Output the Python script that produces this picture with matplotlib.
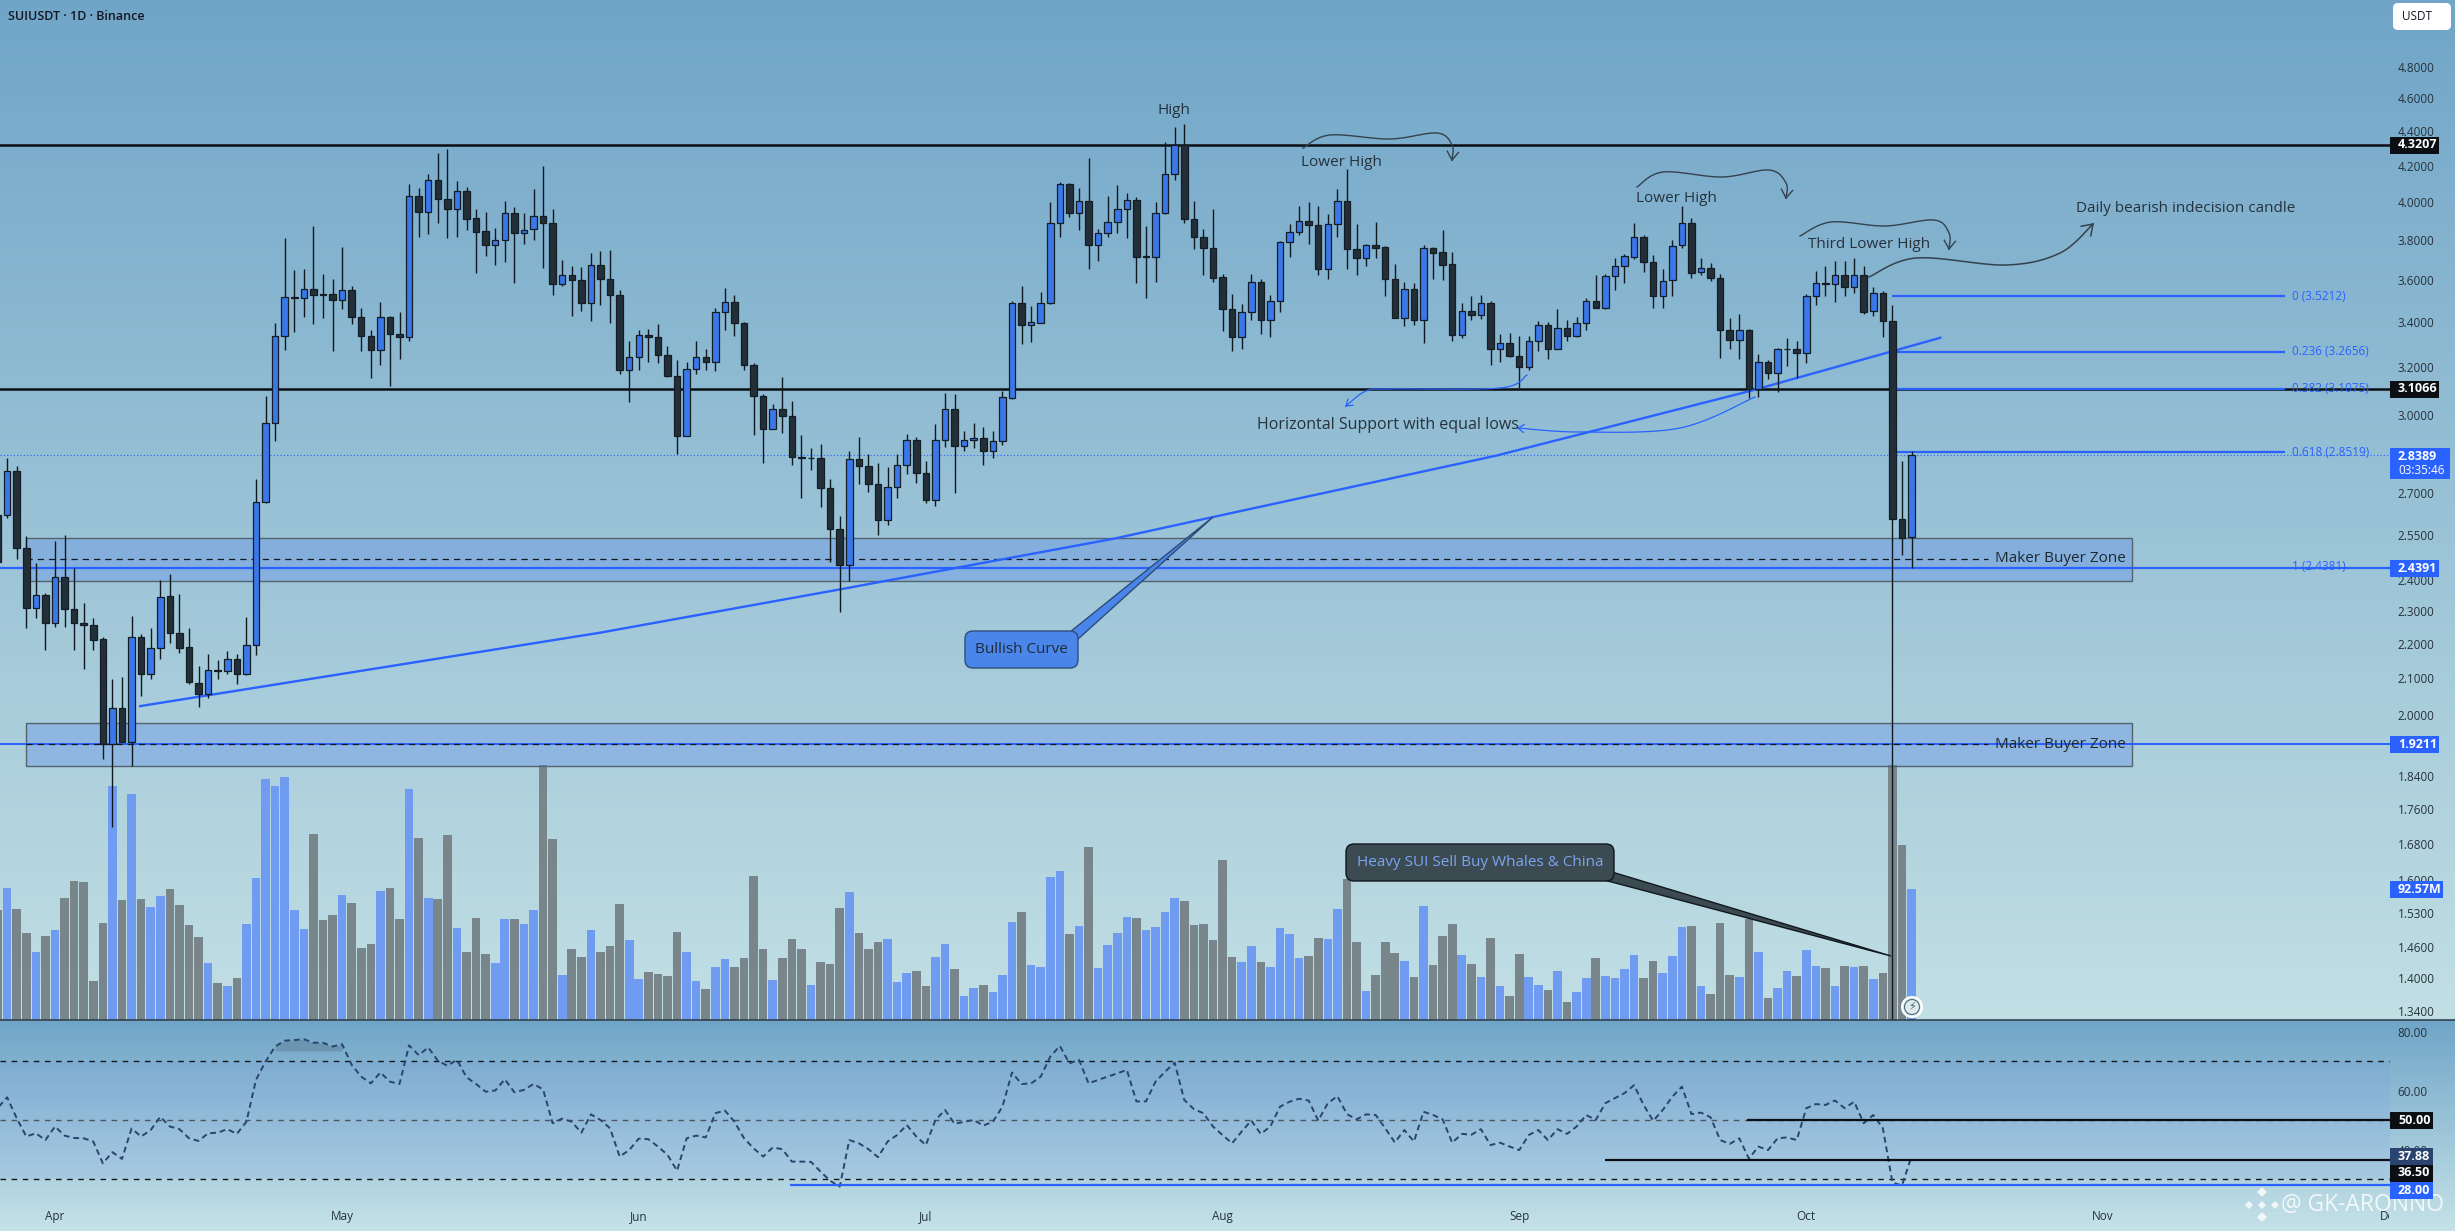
import numpy as np
import matplotlib
matplotlib.use("Agg")
import matplotlib.pyplot as plt
from matplotlib.patches import Rectangle, FancyBboxPatch, Polygon, Circle
from matplotlib.transforms import Bbox, TransformedBbox

plt.rcParams['font.family'] = ['Open Sans', 'DejaVu Sans']

# days counted from 1 Apr, one candle per day
first_day = -6

opens = [2.620, 2.618, 2.779, 2.504, 2.309, 2.350, 2.264, 2.409, 2.307, 2.262,
         2.256, 2.214, 1.921, 2.017, 1.928, 2.220, 2.112, 2.187, 2.347, 2.232,
         2.191, 2.086, 2.055, 2.123, 2.121, 2.155, 2.112, 2.196, 2.664, 2.964,
         3.338, 3.514, 3.514, 3.555, 3.529, 3.529, 3.501, 3.549, 3.422, 3.334,
         3.272, 3.422, 3.344, 3.330, 4.029, 3.947, 4.118, 4.012, 3.959, 4.061,
         3.912, 3.844, 3.775, 3.796, 3.938, 3.832, 3.853, 3.926, 3.884, 3.578,
         3.621, 3.597, 3.487, 3.670, 3.602, 3.525, 3.185, 3.241, 3.340, 3.330,
         3.251, 3.160, 2.916, 3.192, 3.241, 3.219, 3.445, 3.491, 3.393, 3.206,
         3.075, 2.944, 3.022, 2.993, 2.831, 2.828, 2.828, 2.716, 2.570, 2.447,
         2.825, 2.798, 2.730, 2.601, 2.719, 2.801, 2.897, 2.773, 2.672, 2.897,
         3.022, 2.874, 2.897, 2.905, 2.855, 2.893, 3.069, 3.487, 3.385, 3.397,
         3.487, 3.884, 4.095, 3.938, 4.003, 3.775, 3.832, 3.891, 3.959, 4.007,
         3.714, 3.714, 3.942, 4.155, 4.321, 3.905, 3.812, 3.755, 3.612, 3.460,
         3.330, 3.445, 3.587, 3.407, 3.497, 3.787, 3.837, 3.896, 3.875, 3.650,
         3.879, 4.003, 3.750, 3.705, 3.771, 3.762, 3.602, 3.420, 3.555, 3.411,
         3.755, 3.737, 3.676, 3.340, 3.449, 3.434, 3.487, 3.280, 3.304, 3.247,
         3.200, 3.312, 3.385, 3.280, 3.371, 3.334, 3.393, 3.497, 3.465, 3.617,
         3.665, 3.712, 3.812, 3.685, 3.520, 3.597, 3.771, 3.884, 3.636, 3.656,
         3.606, 3.363, 3.316, 3.363, 3.107, 3.219, 3.175, 3.276, 3.276, 3.259,
         3.520, 3.583, 3.578, 3.621, 3.564, 3.621, 3.449, 3.538, 3.403, 2.605, 2.541]
closes = [2.458, 2.779, 2.504, 2.309, 2.350, 2.264, 2.409, 2.307, 2.262, 2.256,
          2.213, 1.921, 2.017, 1.928, 2.220, 2.112, 2.187, 2.344, 2.232, 2.189,
          2.089, 2.055, 2.123, 2.121, 2.155, 2.112, 2.196, 2.664, 2.964, 3.338,
          3.516, 3.516, 3.555, 3.525, 3.525, 3.501, 3.549, 3.422, 3.334, 3.272,
          3.422, 3.344, 3.330, 4.029, 3.947, 4.118, 4.012, 3.959, 4.061, 3.910,
          3.842, 3.775, 3.796, 3.938, 3.832, 3.849, 3.926, 3.884, 3.578, 3.621,
          3.597, 3.487, 3.670, 3.602, 3.525, 3.185, 3.241, 3.340, 3.330, 3.251,
          3.160, 2.916, 3.192, 3.241, 3.219, 3.445, 3.491, 3.393, 3.206, 3.075,
          2.944, 3.022, 2.993, 2.831, 2.828, 2.830, 2.716, 2.570, 2.447, 2.825,
          2.798, 2.730, 2.601, 2.719, 2.801, 2.897, 2.773, 2.672, 2.897, 3.022,
          2.874, 2.897, 2.905, 2.855, 2.893, 3.071, 3.487, 3.385, 3.399, 3.487,
          3.884, 4.095, 3.938, 4.003, 3.775, 3.832, 3.891, 3.959, 4.007, 3.714,
          3.716, 3.942, 4.155, 4.321, 3.905, 3.812, 3.755, 3.610, 3.460, 3.330,
          3.445, 3.587, 3.407, 3.497, 3.787, 3.837, 3.896, 3.875, 3.650, 3.879,
          4.003, 3.750, 3.709, 3.771, 3.759, 3.602, 3.420, 3.555, 3.411, 3.755,
          3.734, 3.674, 3.340, 3.449, 3.434, 3.487, 3.280, 3.304, 3.245, 3.200,
          3.312, 3.385, 3.280, 3.371, 3.334, 3.393, 3.497, 3.467, 3.619, 3.665,
          3.716, 3.812, 3.685, 3.520, 3.595, 3.766, 3.884, 3.634, 3.656, 3.606,
          3.363, 3.316, 3.363, 3.107, 3.219, 3.175, 3.276, 3.278, 3.259, 3.520,
          3.583, 3.577, 3.621, 3.564, 3.621, 3.445, 3.536, 3.403, 2.605, 2.539, 2.8389]
highs = [2.630, 2.830, 2.799, 2.545, 2.456, 2.357, 2.529, 2.549, 2.439, 2.326,
         2.279, 2.222, 2.098, 2.105, 2.286, 2.230, 2.248, 2.399, 2.419, 2.353,
         2.248, 2.136, 2.170, 2.154, 2.180, 2.170, 2.283, 2.748, 3.077, 3.393,
         3.809, 3.648, 3.652, 3.872, 3.630, 3.602, 3.764, 3.568, 3.465, 3.361,
         3.495, 3.428, 3.447, 4.098, 4.075, 4.155, 4.272, 4.295, 4.115, 4.080,
         3.959, 3.947, 3.858, 4.005, 3.971, 3.940, 4.070, 4.196, 3.962, 3.698,
         3.668, 3.661, 3.730, 3.743, 3.746, 3.549, 3.312, 3.363, 3.367, 3.389,
         3.290, 3.229, 3.219, 3.312, 3.280, 3.467, 3.561, 3.525, 3.401, 3.215,
         3.083, 3.042, 3.158, 3.057, 2.917, 2.866, 2.883, 2.751, 2.616, 2.857,
         2.909, 2.843, 2.808, 2.796, 2.843, 2.924, 2.909, 2.816, 2.960, 3.088,
         3.083, 2.935, 2.964, 2.951, 2.935, 3.095, 3.499, 3.568, 3.476, 3.540,
         4.000, 4.108, 4.100, 4.075, 4.244, 3.853, 4.032, 4.093, 4.049, 4.024,
         3.872, 4.000, 4.339, 4.427, 4.443, 4.005, 3.853, 3.959, 3.628, 3.531,
         3.483, 3.630, 3.602, 3.527, 3.791, 3.879, 3.976, 4.000, 3.978, 3.933,
         4.070, 4.180, 3.881, 3.780, 3.893, 3.766, 3.676, 3.589, 3.585, 3.775,
         3.764, 3.851, 3.739, 3.487, 3.522, 3.527, 3.499, 3.344, 3.350, 3.334,
         3.334, 3.405, 3.401, 3.458, 3.407, 3.424, 3.510, 3.621, 3.628, 3.707,
         3.727, 3.884, 3.823, 3.720, 3.652, 3.796, 3.976, 3.912, 3.705, 3.681,
         3.626, 3.420, 3.436, 3.367, 3.255, 3.231, 3.282, 3.328, 3.314, 3.533,
         3.641, 3.668, 3.690, 3.692, 3.707, 3.668, 3.564, 3.544, 3.481, 2.818, 2.857]
lows = [2.440, 2.607, 2.469, 2.248, 2.279, 2.183, 2.252, 2.252, 2.183, 2.127,
        2.183, 1.884, 1.719, 1.926, 1.865, 2.052, 2.098, 2.156, 2.204, 2.175,
        2.085, 2.021, 2.045, 2.098, 2.112, 2.083, 2.110, 2.168, 2.662, 2.895,
        3.274, 3.355, 3.424, 3.391, 3.420, 3.270, 3.458, 3.389, 3.267, 3.152,
        3.208, 3.118, 3.235, 3.314, 3.814, 3.830, 3.886, 3.809, 3.814, 3.849,
        3.632, 3.718, 3.672, 3.687, 3.585, 3.778, 3.798, 3.659, 3.527, 3.568,
        3.428, 3.452, 3.405, 3.481, 3.395, 3.169, 3.053, 3.186, 3.221, 3.218,
        3.158, 2.845, 2.914, 3.171, 3.186, 3.183, 3.365, 3.336, 3.185, 2.919,
        2.809, 2.942, 2.926, 2.802, 2.680, 2.782, 2.648, 2.458, 2.296, 2.396,
        2.732, 2.703, 2.551, 2.583, 2.680, 2.768, 2.735, 2.661, 2.650, 2.873,
        2.699, 2.857, 2.867, 2.802, 2.828, 2.881, 3.062, 3.300, 3.310, 3.395,
        3.485, 3.812, 3.919, 3.851, 3.654, 3.692, 3.812, 3.835, 3.807, 3.585,
        3.512, 3.589, 3.935, 4.120, 3.884, 3.750, 3.621, 3.591, 3.357, 3.267,
        3.278, 3.411, 3.344, 3.330, 3.445, 3.714, 3.825, 3.780, 3.621, 3.602,
        3.814, 3.654, 3.621, 3.668, 3.707, 3.520, 3.418, 3.381, 3.385, 3.306,
        3.604, 3.600, 3.312, 3.326, 3.411, 3.413, 3.208, 3.221, 3.243, 3.109,
        3.186, 3.267, 3.235, 3.276, 3.314, 3.332, 3.365, 3.465, 3.460, 3.551,
        3.585, 3.700, 3.639, 3.463, 3.465, 3.520, 3.757, 3.608, 3.623, 3.595,
        3.237, 3.278, 3.235, 3.067, 3.073, 3.149, 3.094, 3.204, 3.152, 3.218,
        3.481, 3.522, 3.495, 3.522, 3.536, 3.439, 3.426, 3.330, 0.56, 2.482, 2.4391]
# volume in millions
volumes = [77.7, 93.3, 78.4, 61.5, 48.0, 59.3, 63.6, 86.2, 98.2, 97.5,
           27.6, 68.5, 165.3, 84.8, 159.7, 85.5, 79.8, 87.6, 92.6, 81.2,
           67.1, 58.6, 40.3, 26.1, 24.0, 29.7, 67.8, 100.3, 170.3, 165.3,
           171.7, 77.7, 64.3, 131.4, 70.7, 74.2, 88.3, 82.7, 50.9, 53.7,
           91.1, 93.3, 71.4, 163.2, 128.6, 86.2, 85.5, 130.7, 65.0, 48.0,
           72.1, 46.6, 40.3, 71.4, 71.4, 67.8, 77.7, 180.2, 127.9, 31.8,
           50.2, 44.5, 63.6, 48.0, 52.3, 82.0, 56.5, 29.0, 33.9, 32.5,
           31.1, 62.2, 48.0, 27.6, 21.9, 37.4, 43.1, 37.4, 43.8, 101.7,
           50.2, 28.3, 43.8, 57.2, 50.2, 24.7, 41.0, 39.6, 79.1, 90.4,
           61.5, 50.2, 55.1, 57.2, 26.8, 33.2, 34.6, 24.0, 44.5, 53.7,
           36.0, 17.0, 22.6, 24.7, 19.8, 31.8, 69.2, 76.3, 38.9, 37.4,
           101.0, 105.3, 60.8, 66.4, 122.2, 36.7, 53.0, 61.5, 72.8, 72.1,
           63.6, 65.7, 76.3, 86.2, 84.1, 67.1, 67.8, 56.5, 113.0, 44.5,
           41.0, 52.3, 41.0, 37.4, 65.0, 60.8, 43.8, 45.2, 57.9, 57.2,
           78.4, 99.6, 55.1, 20.5, 31.8, 55.1, 47.3, 41.7, 30.4, 80.5,
           38.9, 59.3, 67.8, 45.9, 39.6, 30.4, 57.9, 24.0, 17.0, 46.6,
           30.4, 24.7, 21.2, 34.6, 12.7, 19.8, 29.7, 43.8, 31.1, 29.7,
           36.0, 45.9, 29.7, 41.7, 33.2, 45.2, 65.7, 66.4, 24.0, 18.4,
           68.5, 31.8, 30.4, 71.4, 48.0, 15.5, 22.6, 34.6, 31.1, 49.5,
           38.2, 36.7, 24.0, 38.2, 37.4, 38.2, 29.0, 33.2, 180.2, 123.6, 92.57]
rsi_values = [54.1, 57.8, 50.7, 44.5, 45.6, 43.3, 47.9, 44.8, 44.0, 43.9,
              42.8, 35.4, 39.2, 36.9, 47.2, 44.5, 46.7, 51.2, 47.9, 47.0,
              43.9, 43.0, 45.6, 45.8, 47.0, 45.4, 49.5, 63.7, 69.9, 75.0,
              77.0, 77.2, 77.5, 76.3, 76.3, 75.0, 75.8, 68.8, 64.8, 62.5,
              66.2, 63.1, 62.3, 75.4, 72.1, 74.7, 70.2, 68.5, 70.5, 64.6,
              62.3, 59.7, 60.1, 63.9, 59.5, 60.3, 62.3, 60.5, 49.0, 50.6,
              49.5, 45.8, 52.0, 50.1, 47.3, 37.7, 39.9, 43.8, 43.6, 41.1,
              38.3, 32.9, 43.9, 44.8, 44.2, 52.4, 53.3, 49.5, 43.9, 40.5,
              37.7, 40.8, 40.2, 36.0, 36.0, 35.9, 32.6, 29.5, 27.5, 43.3,
              42.2, 40.2, 37.5, 42.8, 45.0, 48.4, 44.5, 41.6, 50.1, 53.5,
              48.8, 49.5, 50.1, 48.2, 49.5, 54.6, 66.2, 62.3, 62.5, 64.8,
              71.6, 75.2, 69.3, 70.5, 62.5, 63.7, 64.8, 65.9, 67.1, 56.4,
              56.4, 63.1, 66.5, 69.5, 56.9, 53.8, 52.4, 47.9, 45.0, 42.2,
              46.2, 49.9, 45.4, 47.9, 54.6, 56.3, 57.3, 56.7, 49.9, 55.8,
              58.2, 52.1, 50.3, 52.0, 51.8, 47.3, 42.5, 46.7, 42.8, 52.9,
              51.8, 50.3, 42.4, 45.4, 45.1, 47.0, 41.6, 42.4, 41.1, 39.9,
              45.0, 46.7, 43.3, 47.0, 45.4, 47.9, 51.8, 50.1, 55.8, 57.5,
              59.2, 61.9, 55.2, 49.8, 53.5, 58.0, 61.4, 52.1, 52.6, 51.0,
              43.3, 42.0, 43.9, 37.0, 41.1, 39.9, 43.9, 44.2, 43.3, 54.1,
              55.5, 55.2, 56.7, 54.1, 56.3, 49.0, 51.8, 47.3, 28.9, 27.9, 37.88]

# the bullish curve, (day, price)
curve_days = [8.9, 56.95, 81.9, 110.7, 121, 150.6, 177.5, 197]
curve_prices = [2.023, 2.234, 2.368, 2.537, 2.612, 2.838, 3.101, 3.328]

fib_levels = [3.5212, 3.2656, 3.1075, 2.8519]
fib_labels = ['0 (3.5212)', '0.236 (3.2656)', '0.382 (3.1075)', '0.618 (2.8519)']
price_ticks = [4.8, 4.6, 4.4, 4.2, 4.0, 3.8, 3.6, 3.4, 3.2, 3.0, 2.7, 2.55, 2.4,
               2.3, 2.2, 2.1, 2.0, 1.84, 1.76, 1.68, 1.6, 1.53, 1.46, 1.4, 1.34]
month_days = [0, 30, 61, 91, 122, 153, 183, 214]
month_names = ['Apr', 'May', 'Jun', 'Jul', 'Aug', 'Sep', 'Oct', 'Nov']

W, H = 2455, 1231
PLOT_W, PANE_Y, RSI_Y = 2390, 1020, 1200
BLUE = '#2962ff'
INK = '#26323c'


def wavy(pts, n=24):
    # catmull-rom through the hand picked points
    pts = np.array(pts, float)
    p = np.vstack([pts[0], pts, pts[-1]])
    t = np.linspace(0, 1, n)[:, None]
    out = []
    for i in range(1, len(p) - 2):
        out.append(0.5 * (2 * p[i] + (p[i + 1] - p[i - 1]) * t
                          + (2 * p[i - 1] - 5 * p[i] + 4 * p[i + 1] - p[i + 2]) * t ** 2
                          + (3 * p[i] - p[i - 1] - 3 * p[i + 1] + p[i + 2]) * t ** 3))
    return np.vstack(out)


def squiggle(ov, pts, color='#33424c', lw=1.0, size=10):
    c = wavy(pts)
    ov.plot(c[:, 0], c[:, 1], color=color, lw=lw)
    d = c[-1] - c[-5]
    a = np.arctan2(d[1], d[0])
    for s in (-1, 1):
        b = a + np.pi + s * 0.6
        ov.plot([c[-1, 0], c[-1, 0] + size * np.cos(b)],
                [c[-1, 1], c[-1, 1] + size * np.sin(b)], color=color, lw=lw)


def tag(ov, y, text, bg, x1=2439, h=17):
    ov.add_patch(Rectangle((PLOT_W, y - h / 2), x1 - PLOT_W, h, color=bg, lw=0, zorder=4))
    ov.text(2398, y, text, color='white', fontsize=9, weight='bold', va='center', zorder=5)


def callout(ov, x0, y0, x1, y1, tail, text, face, edge, fg):
    ov.add_patch(Polygon(tail, closed=True, facecolor=face, edgecolor=edge, lw=1, zorder=2))
    ov.add_patch(FancyBboxPatch((x0 + 6, y0 + 6), x1 - x0 - 12, y1 - y0 - 12,
                                boxstyle='round,pad=6,rounding_size=8',
                                facecolor=face, edgecolor=edge, lw=1, zorder=3))
    ov.text((x0 + x1) / 2, (y0 + y1) / 2, text, color=fg, fontsize=11,
            ha='center', va='center', zorder=4)


days = np.arange(first_day, first_day + len(closes))
opens = np.array(opens)
closes = np.array(closes)
highs = np.array(highs)
lows = np.array(lows)
up = closes >= opens

fig = plt.figure(figsize=(W / 100, H / 100), dpi=100)

# two vertical gradients behind everything
bg = fig.add_axes([0, 0, 1, 1], zorder=0)
top_rgb = np.array([112, 165, 200])
bot_rgb = np.array([194, 223, 228])
grad = np.vstack([np.linspace(top_rgb, bot_rgb, PANE_Y),
                  np.linspace(top_rgb, bot_rgb + 3, H - PANE_Y)]) / 255
bg.imshow(grad[:, None, :], aspect='auto', extent=(0, W, H, 0))
bg.axis('off')

rect_main = [0, (H - PANE_Y) / H, PLOT_W / W, PANE_Y / H]
xlim = (-55 / 9.57, (PLOT_W - 55) / 9.57)

# volume sits under the candles in the same pane
axv = fig.add_axes(rect_main, zorder=1, facecolor='none')
axv.bar(days, volumes, width=0.9, color=np.where(up, '#6f9cf0', '#78858a'), lw=0)
axv.set_xlim(xlim)
axv.set_ylim(0, PANE_Y * 0.7065)
axv.axis('off')

ax = fig.add_axes(rect_main, zorder=2, facecolor='none')
ax.set_yscale('log')
ax.set_xlim(xlim)
ax.set_ylim(1.3236, 5.2535)
for s in ax.spines.values():
    s.set_visible(False)

# zones
for lo, hi, mid in [(2.396, 2.539, 2.468), (1.865, 1.977, 1.921)]:
    ax.add_patch(Rectangle((-3, lo), 220, hi - lo, facecolor='#5f8fe8', alpha=0.38, lw=0, zorder=1))
    ax.add_patch(Rectangle((-3, lo), 220, hi - lo, fill=False, edgecolor='#53646f', lw=1, zorder=1.2))
    ax.plot([-3, 202], [mid, mid], color='#10181f', lw=0.9, ls=(0, (5, 4)), zorder=2.1)

ax.axhline(4.3207, color='#0b0f13', lw=1.8, zorder=2)
ax.axhline(3.1066, color='#0b0f13', lw=1.8, zorder=2)
ax.axhline(2.4391, color=BLUE, lw=1.6, zorder=2)
ax.axhline(1.9211, color=BLUE, lw=1.4, zorder=2)
ax.axhline(2.8389, color=BLUE, lw=0.8, ls=(0, (1, 2)), zorder=2)
ax.hlines(fib_levels, 192, 233, color=BLUE, lw=1.6, zorder=2.2)
ax.plot(curve_days, curve_prices, color=BLUE, lw=1.7, zorder=2.4)

# candles
ax.vlines(days, lows, highs, color='#10181f', lw=1.0, zorder=3)
ax.bar(days, np.abs(closes - opens), bottom=np.minimum(opens, closes), width=0.68,
       color=np.where(up, '#3a78ea', '#232f38'), edgecolor='#141c24', lw=0.9, zorder=3.2)

ax.yaxis.tick_right()
ax.set_yticks(price_ticks)
ax.set_yticklabels(['%.4f' % p for p in price_ticks])
ax.minorticks_off()
ax.tick_params(axis='y', length=0, pad=5.5, labelsize=8.5, labelcolor=INK)
ax.set_xticks([])

# rsi pane
axr = fig.add_axes([0, (H - RSI_Y) / H, PLOT_W / W, (RSI_Y - PANE_Y) / H], zorder=2, facecolor='none')
axr.set_xlim(xlim)
axr.set_ylim(22.98, 84.0)
for s in axr.spines.values():
    s.set_visible(False)
rsi_arr = np.array(rsi_values)
axr.axhspan(30, 70, color='#6f8fee', alpha=0.12, lw=0)
axr.axhline(70, color='#10181f', lw=1.0, ls=(0, (4, 4)))
axr.axhline(30, color='#10181f', lw=1.0, ls=(0, (4, 4)))
axr.axhline(50, color='#4a5560', lw=1.0, ls=(0, (4, 4)))
axr.fill_between(days, 73.5, rsi_arr, where=(rsi_arr > 73.5) & (days < 35), color='#4a5a70', alpha=0.28, lw=0)
axr.plot(days, rsi_arr, color='#2a4470', lw=1.4, ls=(0, (3, 2)))
axr.hlines(50, 176.8, xlim[1], color='#0b0f13', lw=1.6)
axr.hlines(36.5, 162, xlim[1], color='#0b0f13', lw=1.6)
axr.hlines(28, 76.8, xlim[1], color=BLUE, lw=1.6)
axr.yaxis.tick_right()
axr.set_yticks([80, 60, 40])
axr.set_yticklabels(['80.00', '60.00', '40.00'])
axr.tick_params(axis='y', length=0, pad=5.5, labelsize=8.5, labelcolor=INK)
axr.set_xticks(month_days)
axr.set_xticklabels(month_names)
axr.tick_params(axis='x', length=0, pad=7, labelsize=8.5, labelcolor=INK)

# everything hand drawn lives on a pixel overlay
ov = fig.add_axes([0, 0, 1, 1], zorder=5, facecolor='none')
ov.set_xlim(0, W)
ov.set_ylim(H, 0)
ov.axis('off')

ov.plot([0, W], [PANE_Y, PANE_Y], color='#2a3a44', lw=1.1)

ov.text(8, 16, 'SUIUSDT · 1D · Binance', color='#131722', fontsize=9, weight='semibold', va='center')
ov.add_patch(FancyBboxPatch((2396, 6), 52, 21, boxstyle='round,pad=3,rounding_size=5',
                            facecolor='white', edgecolor='none'))
ov.text(2402, 17, 'USDT', color='#131722', fontsize=8.5, va='center')

for txt, x, y in [('High', 1174, 111), ('Lower High', 1341, 162), ('Lower High', 1676, 199),
                  ('Third Lower High', 1869, 245), ('Daily bearish indecision candle', 2186, 209)]:
    ov.text(x, y, txt, color=INK, fontsize=11, ha='center', va='center')
ov.text(1388, 425, 'Horizontal Support with equal lows', color=INK, fontsize=11.5, ha='center', va='center')
ov.text(2126, 559, 'Maker Buyer Zone', color='#1d2831', fontsize=11, ha='right', va='center')
ov.text(2126, 744, 'Maker Buyer Zone', color='#1d2831', fontsize=11, ha='right', va='center')

for lab, lev in zip(fib_labels, fib_levels):
    ov.text(2292, 388.8 - 740 * np.log(lev / 3.1066), lab, color=BLUE, fontsize=8.5, va='center')
ov.text(2292, 567, '1 (2.4381)', color=BLUE, fontsize=8.5, va='center')

squiggle(ov, [(1303, 148), (1330, 135), (1390, 139), (1437, 133), (1452, 145), (1452, 160)])
squiggle(ov, [(1637, 187), (1663, 172), (1722, 177), (1769, 170), (1786, 183), (1786, 198)])
squiggle(ov, [(1800, 236), (1831, 222), (1885, 226), (1934, 220), (1949, 233), (1949, 249)])
squiggle(ov, [(1869, 277), (1916, 258), (2006, 265), (2060, 253), (2093, 224)], lw=1.1, size=12)
squiggle(ov, [(1527, 375), (1500, 388), (1390, 389), (1366, 391), (1346, 406)], color=BLUE, lw=0.9, size=7)
squiggle(ov, [(1755, 397), (1680, 428), (1580, 432), (1518, 428)], color=BLUE, lw=0.9, size=7)

callout(ov, 965, 631, 1078, 668, [(1070, 632), (1213, 517), (1077, 640)],
        'Bullish Curve', '#4a85ea', '#2d4d78', '#1e2b38')
callout(ov, 1346, 844, 1614, 881, [(1612, 872), (1891, 956), (1604, 880)],
        'Heavy SUI Sell Buy Whales & China', '#3c4a52', '#10181f', '#7ba5f0')

# price tags on the scale
tag(ov, 145, '4.3207', '#0b0f13')
tag(ov, 389, '3.1066', '#0b0f13')
tag(ov, 568, '2.4391', BLUE)
tag(ov, 744, '1.9211', BLUE)
tag(ov, 889.5, '92.57M', BLUE, x1=2443)
tag(ov, 1120, '50.00', '#0b0f13', x1=2433)
tag(ov, 1156.5, '37.88', '#2a4470', x1=2433)
tag(ov, 1173, '36.50', '#0b0f13', x1=2433)
tag(ov, 1190, '28.00', BLUE, x1=2433)
ov.add_patch(Rectangle((PLOT_W, 448), 60, 31, color=BLUE, lw=0, zorder=4))
ov.text(2398, 456, '2.8389', color='white', fontsize=9, weight='bold', va='center', zorder=5)
ov.text(2398, 471, '03:35:46', color='white', fontsize=8.5, va='center', zorder=5)

# cut off month label at the scale edge
dec = ov.text(2390, 1217, 'Dec', color=INK, fontsize=8.5, ha='center', va='center')
dec.set_clip_box(TransformedBbox(Bbox([[0, 1200], [2389, H]]), ov.transData))
dec.set_clip_on(True)

# lightning badge
ov.add_patch(Circle((1912, 1007), 10, facecolor='#dfeaee', edgecolor='white', lw=1.5))
ov.add_patch(Circle((1912, 1007), 7.5, facecolor='none', edgecolor='#4a6a7a', lw=0.8))
ov.text(1912, 1007, '\u26a1', color='#3f5a68', fontsize=8, family='DejaVu Sans', ha='center', va='center')

# watermark
for cx, cy, r in [(2262, 1192, 5), (2262, 1217, 5), (2249, 1205, 4), (2275, 1205, 4), (2262, 1205, 4)]:
    ov.add_patch(Polygon([(cx, cy - r), (cx + r, cy), (cx, cy + r), (cx - r, cy)],
                         color='white', alpha=0.8, lw=0))
ov.text(2281, 1205, '@ GK-ARONNO', color='white', alpha=0.82, fontsize=16.5, va='center')

fig.savefig('out.png', dpi=100)
